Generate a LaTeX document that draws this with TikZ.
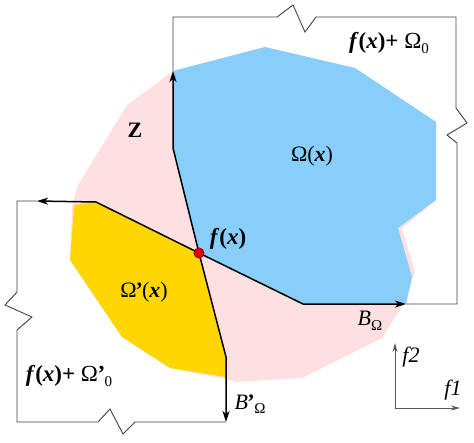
\documentclass[tikz,border=0pt]{standalone}
\usepackage{fontspec}
\setmainfont{Liberation Serif}
\usetikzlibrary{arrows.meta}
\newcommand\lowsub[1]{\raisebox{-0.45ex}{\fontsize{15}{15}\selectfont #1}}
\newcommand\primesub[1]{\kern-0.5pt\textbf{’}\kern-0.5pt\lowsub{#1}}
\newcommand\bfx{\textbf{\textit{f}(\textit{x})}}
\begin{document}
\begin{tikzpicture}[x=1pt,y=-1pt,
  bnd/.style={line width=1.5pt, black, line join=miter},
  boxline/.style={line width=0.9pt, black!75, line join=miter},
  axisline/.style={line width=0.9pt, black!65, -{Stealth[length=9pt,width=5pt]}},
  arr/.style={-{Stealth[length=11pt,width=7pt,inset=3pt]}},
  lbl/.style={font=\fontsize{23}{26}\selectfont, inner sep=0pt},
  dot/.style={circle, fill=red!90!black, draw=red!55!black, line width=0.6pt, minimum size=10pt, inner sep=0pt}]
\useasboundingbox (0,0) rectangle (474,442);
\definecolor{zpink}{RGB}{254,224,226}
\definecolor{oblue}{RGB}{135,206,250}
\definecolor{ogold}{RGB}{255,214,0}
% regions
\fill[zpink] (173,71) -- (127,105) -- (78,185) -- (72,205) -- (70,260) -- (122,337) -- (170,368)
  -- (226,379) -- (236,382) -- (302,378) -- (382,338) -- (404,303) -- (415,272) -- (402,228)
  -- (436,200) -- (436,122) -- (355,68) -- (265,47) -- cycle;
\fill[oblue] (173,71) -- (265,47) -- (355,68) -- (436,122) -- (436,200) -- (398,228)
  -- (412,277) -- (406,304) -- (303,304) -- (199,253) -- (173,148) -- cycle;
\fill[ogold] (97,202) -- (74,205) -- (70,260) -- (122,337) -- (170,368) -- (226,377)
  -- (226,357) -- (199,253) -- cycle;
% coordinates
\coordinate (up1) at (173,148);
\coordinate (upT) at (173,71);
\coordinate (lf1) at (96,202);
\coordinate (lfT) at (37,201);
\coordinate (lfC) at (17,201);
\coordinate (rt1) at (303,304);
\coordinate (rtT) at (406,304);
\coordinate (rtC) at (457,304);
\coordinate (dn1) at (226,357);
\coordinate (dnT) at (226,422);
\coordinate (tlC) at (173,17);
\coordinate (trC) at (456,17);
\coordinate (blC) at (17,422);
% boxes
\draw[boxline] (upT) -- (tlC) -- (277,17) -- (293,5) -- (305,32) -- (316,17) -- (trC)
  -- (456,108) -- (467,123) -- (447,135) -- (457,143) -- (rtC) -- (rtT);
\draw[boxline] (lfT) -- (lfC) -- (17,292) -- (5,305) -- (32,317) -- (17,330) -- (blC)
  -- (98,422) -- (110,409) -- (123,434) -- (135,422) -- (dnT);
% dot node
\node[dot] (fx) at (199,253) {};
% boundary arrows
\draw[bnd,arr] (fx.center) -- (up1) -- (upT);
\draw[bnd,arr] (fx.center) -- (lf1) -- (lfT);
\draw[bnd,arr] (fx.center) -- (rt1) -- (rtT);
\draw[bnd,arr] (fx.center) -- (dn1) -- (dnT);
\node[dot] at (fx) {};
% labels
\node[lbl] (l0) at (389,43) {\bfx\textbf{+} Ω\lowsub{0}};
\node[lbl, font=\fontsize{22}{24}\selectfont] (lz) at (135,130) {\textbf{Z}};
\node[lbl, font=\fontsize{22}{24}\selectfont] (lom) at (312,156) {Ω(\textbf{\textit{x}})};
\node[lbl] (lfx) at (228,239) {\bfx};
\node[lbl, font=\fontsize{22}{24}\selectfont] (lomp) at (144,292) {Ω\kern-1pt\textbf{’}\kern-1pt(\textbf{\textit{x}})};
\node[lbl] (l0p) at (69,376) {\bfx\textbf{+} Ω\primesub{0}};
\node[lbl, font=\fontsize{22}{24}\selectfont] (lb) at (370,321) {\textit{B}\lowsub{Ω}};
\node[lbl, font=\fontsize{22}{24}\selectfont] (lbp) at (250,404) {\textit{B}\primesub{Ω}};
% axes
\coordinate (ax0) at (395,408);
\coordinate (axY) at (395,343);
\coordinate (axX) at (460,408);
\draw[axisline] (ax0) -- (axY);
\draw[axisline] (ax0) -- (axX);
\node[lbl, font=\fontsize{22}{24}\selectfont] (lf2) at (411,357) {\textit{f2}};
\node[lbl, font=\fontsize{22}{24}\selectfont] (lf1) at (453,390) {\textit{f1}};
\end{tikzpicture}
\end{document}
